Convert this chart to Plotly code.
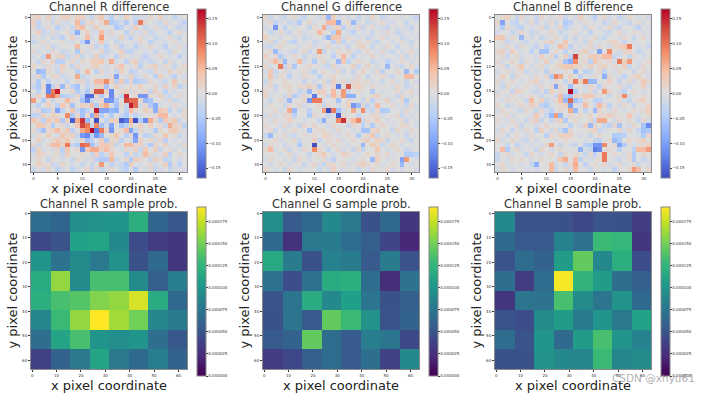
import plotly.graph_objects as go

# Difference maps, values (see DIFF_UNIT / DIFF_ZERO for the reading scale)
diff_r = [
[2,3,1,3,0,1,3,3,1,3,3,0,-1,2,4,0,-2,1,0,3,1,-1,0,0,2,1,3,0,1,-1,0,1],
[3,-2,1,1,-1,2,0,0,1,5,-2,2,3,1,2,6,-3,-2,0,-3,1,-2,9,2,1,0,-1,2,0,1,0,-2],
[2,-1,0,2,1,-2,0,1,-1,4,5,1,0,3,1,1,1,-3,-2,1,0,3,1,-1,0,2,0,-1,1,0,-1,0],
[1,3,-1,0,2,0,1,2,-1,-6,1,3,0,0,5,0,2,1,1,-2,2,0,0,2,-1,0,1,0,-2,1,2,0],
[0,1,0,1,-1,0,-2,1,3,0,1,5,0,1,7,1,0,0,3,0,-2,1,2,0,1,-1,0,1,2,0,-1,1],
[-1,0,2,0,1,1,2,0,0,1,-2,-8,1,0,4,0,1,-1,0,1,1,0,2,1,-2,0,1,0,1,2,0,1],
[1,1,0,2,-1,0,1,1,1,5,1,1,2,-1,0,-2,1,2,-2,0,1,-2,0,1,2,1,0,-2,1,0,2,0],
[2,0,1,0,2,1,-1,0,1,-3,2,0,1,1,2,-1,0,1,3,-1,-2,0,1,0,1,-1,1,0,-1,2,1,0],
[0,1,-1,7,1,2,3,-1,0,2,-1,1,0,3,-1,0,1,-2,2,1,0,1,0,-2,0,1,2,1,0,1,-2,1],
[1,-1,2,1,3,-2,-2,1,2,0,2,1,3,3,4,1,6,0,1,-2,2,3,-1,0,-1,0,1,-1,2,0,1,0],
[2,1,0,2,1,0,3,1,-1,2,1,1,2,3,1,0,1,2,4,1,0,2,-2,1,2,3,0,2,1,-1,1,2],
[1,-5,-4,2,1,-1,2,1,1,-2,1,5,1,-2,2,0,1,-1,3,1,-2,-1,1,0,-1,2,1,0,3,1,2,1],
[0,2,-3,1,2,2,-1,0,1,6,-1,0,1,1,1,0,2,-7,1,0,3,-1,0,2,1,-2,3,1,0,-2,1,0],
[1,-3,1,-2,1,0,1,-1,1,2,2,-1,1,5,5,8,3,-2,4,-2,2,-3,-2,-1,2,1,0,-1,1,4,1,2],
[-1,-3,2,-9,-2,2,-5,2,-2,-4,1,-1,0,2,3,-4,1,3,0,1,2,1,3,1,1,2,0,3,1,3,-2,0],
[1,-2,1,-9,9,14,1,1,2,-3,0,-3,2,11,11,3,-9,1,2,3,0,2,1,2,-1,3,1,-2,1,0,1,1],
[0,3,1,9,10,6,-3,-2,-1,2,-2,-11,-11,2,-3,1,-9,1,-2,13,1,2,-8,-8,2,1,3,0,-1,1,2,0],
[7,1,-3,2,-1,1,1,5,2,1,-4,-9,-2,0,2,-8,-8,-3,1,12,10,10,2,-5,-4,1,1,0,2,-1,0,1],
[0,-2,1,3,1,-2,4,2,-4,1,3,2,5,-3,4,6,0,-4,2,-1,14,10,0,2,-3,-6,0,1,0,2,1,0],
[1,2,-3,-2,2,-7,-2,1,4,-1,-4,-2,1,14,-7,-7,-5,-6,1,-2,5,2,1,3,2,-6,4,3,-2,1,-1,2],
[-2,-1,3,1,3,2,1,8,-3,2,-4,2,-6,6,-3,1,-3,1,-1,-3,1,-2,0,1,1,2,5,5,1,0,1,2],
[4,2,-2,4,2,4,-3,3,-12,6,13,-5,1,-13,1,-2,3,3,-12,-10,6,-13,-3,-9,6,2,-3,4,2,4,-1,1],
[1,4,3,2,-3,1,2,-1,1,4,12,9,-1,8,-4,0,-7,1,-4,-2,3,1,3,1,3,1,2,-1,6,3,2,-2],
[2,-1,-4,2,3,5,2,4,-2,1,6,8,17,-10,9,3,-8,1,2,5,-7,-1,2,1,1,-3,2,1,3,4,2,0],
[0,2,1,3,1,0,4,2,3,-1,-8,-9,-2,-8,-5,1,2,4,1,-2,2,-8,1,-2,-1,2,1,4,1,2,-1,1],
[1,3,0,1,2,4,2,4,1,0,2,-4,-2,1,3,-3,2,2,-2,1,0,-7,3,1,2,0,2,-2,1,0,1,0],
[2,-1,1,2,5,5,3,9,-1,-3,10,9,-4,-1,4,4,3,-1,1,5,5,2,3,0,-3,2,1,3,0,1,0,2],
[-2,3,0,1,0,2,-2,4,1,2,-8,4,6,6,3,5,2,1,0,2,1,3,-1,4,1,3,-1,1,2,0,1,0],
[0,3,2,1,1,2,-1,3,1,1,2,1,-1,3,-2,0,4,1,1,-2,2,-1,0,5,2,0,1,3,-2,1,2,1],
[1,2,1,-1,2,1,0,1,-1,2,1,0,2,-2,-3,-3,5,-1,1,2,-3,3,2,1,-1,3,2,-2,-1,1,0,1],
[1,3,2,2,-1,0,2,1,0,1,-1,1,-1,1,7,1,-2,0,-1,-3,3,1,0,1,2,0,1,3,-3,1,-2,1],
[-1,1,0,2,1,-2,0,1,-2,0,1,2,-1,2,-1,0,2,1,-1,-2,1,-3,1,0,2,-1,0,1,-1,0,1,0],
]
diff_g = [
[2,-1,1,0,-1,1,2,0,-1,1,1,0,2,-5,3,0,1,0,1,-1,1,0,2,1,-1,0,1,1,0,1,0,-1],
[1,2,-2,0,1,-1,0,-3,1,2,0,1,1,5,5,-7,1,2,-5,0,1,-1,0,1,2,0,0,1,1,-1,1,0],
[0,1,-8,1,-2,1,0,1,1,-1,2,1,6,-1,2,3,-2,1,0,2,-1,1,2,0,0,-1,1,0,1,0,-1,1],
[1,-1,0,2,0,-1,1,2,0,1,1,5,2,1,-2,6,1,0,-2,1,0,1,-1,1,0,2,1,-1,0,1,0,1],
[3,1,1,0,1,1,0,1,-1,0,1,1,-1,-5,4,4,0,2,1,0,1,-1,0,1,2,0,1,1,-1,0,1,0],
[1,2,-1,1,2,-1,-2,1,0,1,-1,0,1,1,-2,3,-2,1,0,2,1,2,0,-1,1,1,0,1,2,0,-1,1],
[0,-1,1,2,1,1,1,0,1,2,0,1,0,2,1,0,1,-1,1,2,3,1,-1,1,0,2,1,-1,1,1,0,1],
[1,2,-5,0,1,0,-1,1,2,-1,1,7,-1,1,0,2,1,2,0,-1,1,2,1,0,2,0,-1,1,0,1,2,0],
[3,1,2,-3,0,1,2,1,-1,1,0,2,1,1,-2,1,5,1,-2,1,0,1,2,1,0,1,1,0,2,-1,1,0],
[1,2,5,2,-5,1,0,5,0,1,-3,1,2,0,1,-5,4,-2,1,2,1,1,-1,0,1,-2,0,1,2,1,0,1],
[2,0,1,9,-1,2,-3,1,1,2,1,1,0,-1,2,0,1,1,3,-1,1,2,1,0,1,-5,1,0,-1,1,2,0],
[0,4,-1,1,2,0,1,1,2,0,-2,1,2,1,0,2,-1,1,-1,1,3,1,0,2,-2,1,1,2,1,-5,1,-3],
[1,4,0,2,1,-2,1,0,2,1,1,-2,1,1,2,1,1,1,0,2,1,-1,1,1,2,0,-1,1,1,5,5,1],
[-1,2,1,1,2,1,1,1,-1,1,0,1,2,-1,3,1,2,0,2,2,1,2,0,1,-1,1,2,0,1,-1,1,0],
[1,2,-1,1,2,2,1,2,2,3,2,-3,2,1,2,-10,1,11,2,3,2,1,2,1,1,1,0,2,1,-1,0,1],
[2,1,0,1,1,2,1,-1,0,-5,1,3,3,1,5,1,7,-1,1,2,1,1,-3,1,0,1,1,2,0,1,2,0],
[3,0,1,1,-1,2,-3,0,2,1,-10,1,2,-1,5,2,7,-6,-6,1,0,1,2,3,1,0,1,-1,2,1,0,1],
[1,-1,1,2,0,-5,1,1,2,-8,9,9,0,1,1,-4,1,2,1,1,-1,2,-2,1,1,3,0,1,2,-3,1,1],
[0,2,1,1,-1,2,1,2,0,1,1,2,-1,2,1,0,1,3,-8,-5,2,-2,0,5,1,1,2,0,1,-1,2,0],
[1,1,2,0,1,6,-5,1,1,-2,1,1,7,-14,9,-4,0,1,6,1,8,0,-1,2,-3,-3,1,1,0,2,1,0],
[0,2,0,1,2,2,-2,1,1,-3,2,1,1,-1,0,-12,2,1,1,-1,1,1,2,2,0,1,1,2,-1,1,0,1],
[1,0,2,1,1,3,1,1,0,1,1,-1,-6,1,1,8,13,2,5,8,-1,2,1,3,1,0,1,1,2,-1,1,0],
[2,1,1,0,2,0,1,-1,2,1,2,1,1,0,2,1,1,-1,2,1,-2,1,-3,1,2,1,0,1,2,2,1,0],
[1,2,-1,1,0,1,2,1,1,-4,1,2,2,1,0,2,1,1,0,1,-4,-4,2,3,1,1,-1,2,1,0,2,1],
[-1,-5,1,1,2,0,-1,1,2,1,2,1,3,2,1,0,1,2,1,-3,1,2,4,-1,1,2,1,0,1,-1,1,0],
[1,1,2,0,1,1,2,-1,1,1,3,-1,1,2,1,2,0,1,2,1,2,3,1,3,2,-1,1,1,2,0,-1,1],
[0,2,1,1,-1,1,1,-3,1,1,-13,1,0,1,2,1,1,0,1,1,-5,1,4,2,-1,1,2,1,0,1,1,0],
[2,5,0,1,2,-1,1,0,2,1,8,2,1,-1,1,2,0,1,-1,2,-1,1,1,4,1,0,1,2,1,-1,0,1],
[1,1,1,0,1,2,0,1,1,-1,1,2,4,1,0,1,3,2,1,0,1,2,1,2,1,2,0,1,1,-3,-3,-2],
[0,2,1,1,0,1,-1,2,1,0,1,1,2,0,-2,1,1,1,0,1,2,1,-5,3,1,0,1,1,-7,7,1,0],
[1,0,1,2,1,0,1,1,-1,1,2,0,-1,2,2,1,2,0,1,2,3,2,1,2,0,1,2,1,-5,1,0,1],
[2,1,0,1,-1,2,1,0,1,1,1,-1,1,0,3,1,0,1,1,-1,1,0,2,1,1,2,0,1,0,1,1,0],
]
diff_b = [
[1,2,3,1,-1,2,0,1,-1,2,1,0,1,2,-1,1,0,3,1,0,-2,1,2,0,1,-1,0,2,1,0,1,0],
[2,-7,1,-1,-2,1,0,2,-1,1,0,2,-1,1,-3,-2,1,0,2,1,0,1,-1,0,2,1,0,-1,1,2,0,1],
[1,-3,2,0,-1,-2,1,0,1,2,-1,1,0,2,-2,0,1,1,-1,2,1,0,1,2,0,-1,1,1,0,-2,1,0],
[0,1,1,-1,0,2,1,-1,0,1,1,2,1,-1,0,1,2,0,1,-2,1,1,0,-1,1,2,0,1,2,1,0,1],
[4,4,0,2,1,-5,1,0,1,-1,0,1,2,1,-1,1,-1,1,0,1,2,0,-1,1,1,0,2,1,-1,1,2,0],
[1,2,-1,0,1,0,-1,1,0,1,2,3,0,1,4,1,0,1,-1,2,1,0,1,2,3,1,-1,1,0,1,1,0],
[1,0,2,1,-1,2,1,0,-1,1,-2,0,1,5,3,-2,1,0,1,2,0,2,1,0,2,3,4,9,1,0,1,-1],
[2,3,0,3,1,0,1,-2,1,-4,-4,1,2,1,-2,1,0,2,3,0,1,-7,1,8,1,0,2,3,1,-1,0,1],
[1,2,-1,1,2,0,1,1,0,3,1,2,-2,1,3,-2,12,2,1,3,4,3,5,5,-1,0,1,-1,2,1,0,1],
[2,0,1,2,1,-1,2,1,0,1,3,0,1,2,-4,-6,8,1,2,-2,4,2,1,2,0,9,3,7,1,0,1,2],
[1,2,-1,1,2,4,1,0,1,2,0,1,2,3,4,4,3,2,1,3,1,2,3,1,2,1,3,-1,1,0,2,1],
[0,1,2,0,1,2,-1,1,0,1,-2,2,1,0,2,1,-5,1,-2,-1,1,2,-2,1,0,2,1,1,-1,1,2,0],
[1,3,1,-1,2,1,1,0,2,1,2,-3,8,6,1,3,1,-2,1,0,2,1,-6,2,1,0,-2,1,2,3,1,0],
[2,0,1,2,1,0,1,2,3,0,1,0,2,1,-1,2,9,3,9,-5,-5,1,1,3,1,-1,1,2,0,1,4,2],
[1,-1,2,1,0,1,2,1,0,2,1,2,-7,2,1,-4,1,1,0,2,1,-2,2,1,1,2,0,-1,1,1,3,0],
[0,1,1,-1,3,2,1,0,-1,1,-2,3,1,2,1,17,-3,1,0,2,-1,1,7,2,1,0,-2,1,2,1,0,1],
[2,1,0,2,1,0,1,2,1,-1,1,1,-1,5,-3,-4,3,2,4,4,2,1,1,-1,1,2,8,0,1,1,2,1],
[1,0,2,1,2,1,-1,5,1,3,-1,0,2,5,-5,10,-4,-2,2,1,-2,-2,0,1,1,2,0,-1,1,2,3,1],
[2,1,-1,0,1,2,1,3,2,-2,-3,0,1,2,3,-7,1,0,5,1,0,5,2,-2,1,0,2,1,-1,1,1,3],
[0,2,1,1,0,-1,2,1,-1,2,0,-2,1,2,1,6,-5,1,-2,1,-5,2,1,0,2,1,0,1,2,1,2,3],
[1,1,2,0,1,1,1,0,4,1,-1,-5,7,-5,1,2,1,2,1,2,1,2,2,3,2,1,1,4,1,0,1,2],
[2,1,0,2,0,1,-1,2,3,-1,1,-1,2,3,-3,1,2,1,1,2,-1,6,6,1,0,2,1,2,1,-1,2,0],
[1,0,1,1,2,-1,1,1,0,1,2,1,1,1,1,-2,1,0,3,-5,2,1,-1,-2,2,-4,1,0,2,1,-4,-9],
[0,2,1,-1,1,0,2,1,-2,3,1,0,2,-1,-4,2,1,1,1,2,3,-1,0,1,1,2,0,2,1,-1,-4,-3],
[1,1,-1,1,2,1,0,2,1,1,-2,2,1,3,3,3,1,0,1,-1,1,2,1,1,-3,-3,-2,1,1,0,-3,2],
[2,0,1,2,1,0,-1,1,0,1,1,1,0,1,2,1,1,1,0,1,-1,-2,1,2,-5,-3,1,2,1,2,3,1],
[1,1,-1,1,-2,0,1,0,1,0,2,7,1,-1,1,0,-1,1,-2,-3,-8,-8,8,1,2,-7,-3,1,0,1,2,3],
[1,5,-3,1,2,0,1,1,-1,2,1,0,1,2,1,1,1,-6,0,-1,-10,-9,1,2,1,-2,1,1,-2,5,5,7],
[-1,1,2,0,1,1,-1,2,1,0,1,2,1,-1,2,1,2,1,-1,2,-2,1,9,1,2,1,0,2,-3,1,2,1],
[-1,1,0,2,1,2,1,0,1,2,1,1,0,4,6,1,5,-2,1,0,1,2,9,1,0,-1,1,2,-3,1,-1,0],
[1,2,0,1,1,0,1,-1,-6,1,1,5,0,1,-1,2,6,1,-2,1,2,1,2,0,1,2,0,1,2,-1,1,0],
[0,2,1,0,1,1,0,1,0,1,1,5,-1,1,2,0,5,1,1,-1,1,1,0,1,-2,1,1,2,7,5,1,2],
]
# Reading scale of the difference tables: my readings ran one step warm and a little faint
DIFF_ZERO = 1
DIFF_UNIT = 0.012
# Sample-probability maps in units of 1e-6
prob_r = [
[68,62,95,98,100,120,62,52],
[42,50,110,112,90,45,35,30],
[100,72,92,78,98,48,66,30],
[118,160,92,135,135,92,58,82],
[120,135,140,155,160,180,118,65],
[88,130,160,196,165,150,88,80],
[70,112,135,100,95,100,70,52],
[38,60,78,112,78,65,82,60],
]
prob_g = [
[95,55,65,90,78,48,65,30],
[65,28,78,80,68,58,40,22],
[115,80,48,85,80,55,80,50],
[72,45,72,118,120,68,25,72],
[50,75,118,90,108,75,48,58],
[48,75,55,145,130,98,50,60],
[55,60,145,68,55,82,75,42],
[35,42,58,68,55,70,38,90],
]
prob_b = [
[90,50,50,48,42,50,48,35],
[65,55,55,85,72,130,128,30],
[50,68,60,105,145,90,120,45],
[70,35,68,190,125,105,70,58],
[30,75,72,135,92,75,98,65],
[50,45,92,105,80,100,78,110],
[68,50,100,65,105,135,100,85],
[48,48,98,90,88,130,88,92],
]
diff_titles = ["Channel R difference", "Channel G difference", "Channel B difference"]
prob_titles = ["Channel R sample prob.", "Channel G sample prob.", "Channel B sample prob."]
diff_ticks = [0.15, 0.10, 0.05, 0.0, -0.05, -0.10, -0.15]
diff_tick_text = ["0.15", "0.10", "0.05", "0.00", "\u22120.05", "\u22120.10", "\u22120.15"]
prob_ticks = [0, 25, 50, 75, 100, 125, 150, 175]
prob_tick_text = ["0.000000", "0.000025", "0.000050", "0.000075", "0.000100", "0.000125", "0.000150", "0.000175"]
xlabel = "x pixel coordinate"
ylabel = "y pixel coordinate"

W, H = 708, 394
coolwarm = [[0, "#3b4cc0"], [0.125, "#6282ea"], [0.25, "#8db0fe"], [0.375, "#b8d0f9"], [0.5, "#dddddd"],
            [0.625, "#f5c4ac"], [0.75, "#f38a64"], [0.875, "#d44e41"], [1, "#b40426"]]
lefts = [31, 263, 495]
pw = 156
tops = [15, 212]
ph = 157
bars = [197, 429, 661]
bar_tops = [(9, 169), (207, 169)]

fig = go.Figure()
annos = []
layout = {}

def add_panel(idx, col, row, z, title, scale, zmin, zmax, x0, dx, rng, ticks, cticks, ctext):
    xn = "x" + (str(idx) if idx > 1 else "")
    yn = "y" + (str(idx) if idx > 1 else "")
    btop, blen = bar_tops[row]
    fig.add_trace(go.Heatmap(
        z=z, x0=x0, dx=dx, y0=x0, dy=dx, xaxis=xn, yaxis=yn, colorscale=scale, zmin=zmin, zmax=zmax,
        hoverinfo="skip",
        colorbar=dict(x=bars[col] / W, xanchor="left", xpad=0, ypad=0, thickness=9, thicknessmode="pixels",
                      y=1 - btop / H, yanchor="top", len=blen / H, lenmode="fraction",
                      outlinewidth=1, outlinecolor="#8a8a8a", ticks="outside", ticklen=1.5, tickwidth=0.5,
                      tickcolor="#333", tickvals=cticks, ticktext=ctext,
                      tickfont=dict(size=4, family="DejaVu Sans", color="#333"))))
    ax = dict(showgrid=False, zeroline=False, showline=True, mirror=True, linecolor="#8a8a8a", linewidth=1,
              ticks="outside", ticklen=2, tickwidth=0.5, tickcolor="#333", tickvals=ticks,
              tickfont=dict(size=4, family="DejaVu Sans", color="#333"), automargin=False)
    layout["xaxis" + (str(idx) if idx > 1 else "")] = dict(
        ax, domain=[lefts[col] / W, (lefts[col] + pw) / W], range=rng, anchor=yn,
        title=dict(text=xlabel, standoff=3, font=dict(size=13, family="DejaVu Sans", color="#222")))
    layout["yaxis" + (str(idx) if idx > 1 else "")] = dict(
        ax, domain=[1 - (tops[row] + ph) / H, 1 - tops[row] / H], range=rng[::-1], anchor=xn,
        title=dict(text=ylabel, standoff=1, font=dict(size=13, family="DejaVu Sans", color="#222")))
    annos.append(dict(text=title, x=(lefts[col] + pw / 2) / W, y=1 - (tops[row] - 8) / H, xref="paper", yref="paper",
                      xanchor="center", yanchor="middle", showarrow=False,
                      font=dict(size=11.5, family="DejaVu Sans", color="#333")))

for col, (z, t) in enumerate(zip([diff_r, diff_g, diff_b], diff_titles)):
    add_panel(col + 1, col, 0, [[(v - DIFF_ZERO) * DIFF_UNIT for v in r] for r in z], t, coolwarm, -0.17, 0.17, 0, 1,
              [-0.5, 31.5], [0, 5, 10, 15, 20, 25, 30], diff_ticks, diff_tick_text)
for col, (z, t) in enumerate(zip([prob_r, prob_g, prob_b], prob_titles)):
    add_panel(col + 4, col, 1, z, t, "Viridis", 0, 192, 3.5, 8,
              [-0.5, 63.5], [0, 10, 20, 30, 40, 50, 60], prob_ticks, prob_tick_text)

annos.append(dict(text="CSDN @xhyu61", x=653 / W, y=1 - 378 / H, xref="paper", yref="paper", xanchor="center",
                  yanchor="middle", showarrow=False, font=dict(size=10.5, family="DejaVu Sans", color="rgba(120,120,120,0.6)")))

fig.update_layout(width=W, height=H, margin=dict(l=0, r=0, t=0, b=0), paper_bgcolor="white", plot_bgcolor="white",
                  annotations=annos, showlegend=False, **layout)
fig.write_html("out.html", config={"displayModeBar": False},
               post_script="document.body.style.margin='0';document.body.style.overflow='hidden';")
